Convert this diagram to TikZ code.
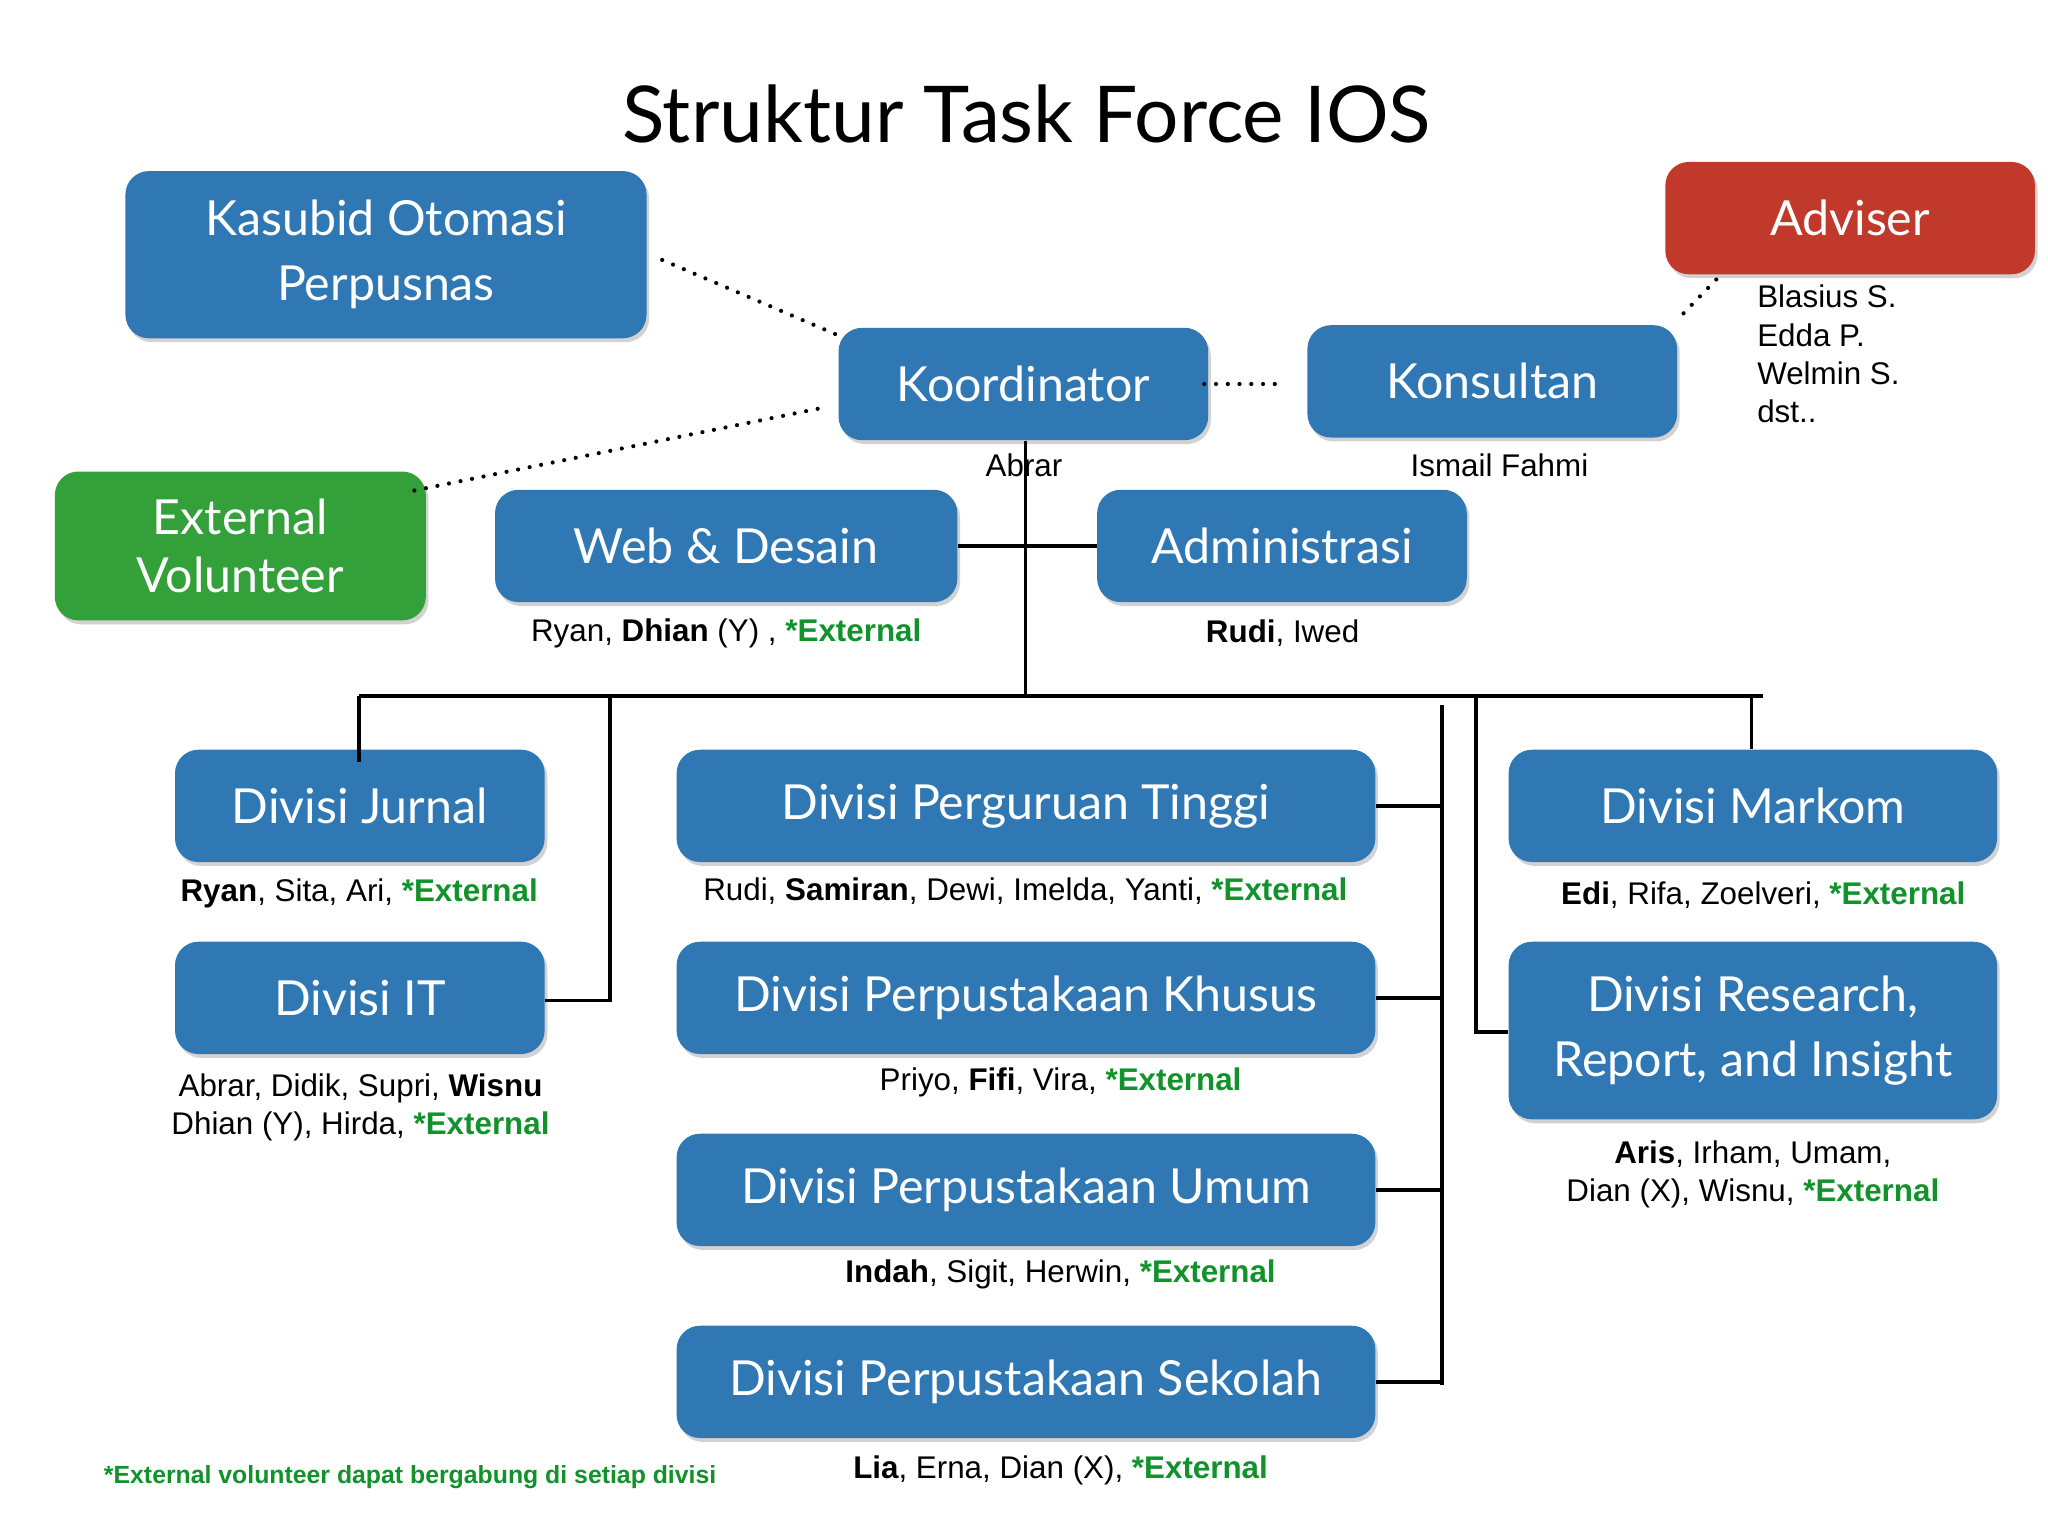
\documentclass[tikz,border=0pt]{standalone}
\usepackage{fontspec}
\setmainfont{Liberation Sans}
\newfontfamily\boxfont{Lato}
\usetikzlibrary{shadows}
\definecolor{bblue}{HTML}{2F78B4}
\definecolor{bred}{HTML}{C0392B}
\definecolor{bgreen}{HTML}{33A03A}
\definecolor{egreen}{HTML}{11922B}
\begin{document}
\begin{tikzpicture}[x=0.5pt,y=-0.5pt,
  bx/.style={rounded corners=9pt,fill=bblue,text=white,font=\boxfont\fontsize{18.5}{25}\selectfont,align=center,inner sep=0pt,drop shadow={opacity=0.35,shadow xshift=1pt,shadow yshift=-1.5pt},minimum width=141.5pt,minimum height=43pt},
  lb/.style={font=\fontsize{12}{14.5}\selectfont,align=center,inner sep=0pt},
  ln/.style={line width=1.3pt},
  dt/.style={line width=1.6pt,dash pattern=on 0pt off 4.5pt,line cap=round},
  ex/.style={text=egreen,font=\bfseries}]
\useasboundingbox (0,0) rectangle (1568,1176);
\fill[white] (0,0) rectangle (1568,1176);
\node[font=\boxfont\fontsize{30}{36}\selectfont] (title) at (786,87) {Struktur Task Force IOS};
\node[bx,minimum width=199.5pt,minimum height=64pt] (kas) at (295.5,195) {Kasubid Otomasi\\Perpusnas};
\node[bx,fill=bred] (adv) at (1416.5,167) {Adviser};
\node[bx] (koord) at (783.5,294) {Koordinator};
\node[bx] (kons) at (1142.5,292) {Konsultan};
\node[bx,fill=bgreen,minimum width=142pt,minimum height=57pt,font=\boxfont\fontsize{18.5}{22}\selectfont] (ext) at (184,418) {External\\Volunteer};
\node[bx,minimum width=177pt] (web) at (556,418) {Web \& Desain};
\node[bx] (adm) at (981.5,418) {Administrasi};
\node[bx] (jur) at (275.5,617) {Divisi Jurnal};
\node[bx] (it) at (275.5,764) {Divisi IT};
\node[bx,minimum width=267.5pt] (dpt) at (785.5,617) {Divisi Perguruan Tinggi};
\node[bx,minimum width=267.5pt] (dpk) at (785.5,764) {Divisi Perpustakaan Khusus};
\node[bx,minimum width=267.5pt] (dpu) at (785.5,911) {Divisi Perpustakaan Umum};
\node[bx,minimum width=267.5pt] (dps) at (785.5,1058) {Divisi Perpustakaan Sekolah};
\node[bx,minimum width=187pt] (mar) at (1342,617) {Divisi Markom};
\node[bx,minimum width=187pt,minimum height=68pt,font=\boxfont\fontsize{18.5}{25}\selectfont] (res) at (1342,789) {Divisi Research,\\Report, and Insight};
% labels
\node[lb] (lab) at (784,356) {Abrar};
\node[lb] (lkons) at (1148,356) {Ismail Fahmi};
\node[lb,align=left,anchor=north west,font=\fontsize{12}{14.6}\selectfont] (ladv) at (1345,218) {Blasius S.\\Edda P.\\Welmin S.\\dst..};
\node[lb] (lweb) at (556,485) {Ryan, \textbf{Dhian} (Y) , \textcolor{egreen}{\textbf{*External}}};
\node[lb] (ladm) at (982,485) {\textbf{Rudi}, Iwed};
\node[lb] (ljur) at (275,684) {\textbf{Ryan}, Sita, Ari, \textcolor{egreen}{\textbf{*External}}};
\node[lb] (lit) at (276,848) {Abrar, Didik, Supri, \textbf{Wisnu}\\Dhian (Y), Hirda, \textcolor{egreen}{\textbf{*External}}};
\node[lb] (ldpt) at (785,682) {Rudi, \textbf{Samiran}, Dewi, Imelda, Yanti, \textcolor{egreen}{\textbf{*External}}};
\node[lb] (ldpk) at (812,829) {Priyo, \textbf{Fifi}, Vira, \textcolor{egreen}{\textbf{*External}}};
\node[lb] (ldpu) at (812,976) {\textbf{Indah}, Sigit, Herwin, \textcolor{egreen}{\textbf{*External}}};
\node[lb] (ldps) at (812,1126) {\textbf{Lia}, Erna, Dian (X), \textcolor{egreen}{\textbf{*External}}};
\node[lb] (lmar) at (1350,685) {\textbf{Edi}, Rifa, Zoelveri, \textcolor{egreen}{\textbf{*External}}};
\node[lb] (lres) at (1342,899) {\textbf{Aris}, Irham, Umam,\\Dian (X), Wisnu, \textcolor{egreen}{\textbf{*External}}};
\node[lb,text=egreen,font=\bfseries\fontsize{9.5}{11}\selectfont] (foot) at (314,1131) {*External volunteer dapat bergabung di setiap divisi};
% coordinates
\coordinate (bl) at (275,533);
\coordinate (br) at (1350,533);
\coordinate (bc) at (785,533);
\coordinate (a1) at (467,533);
\coordinate (a2) at (467,766);
\coordinate (r1) at (1130,533);
\coordinate (r2) at (1130,790);
\coordinate (m1) at (1341,533);
\coordinate (v1) at (1104,540);
\coordinate (v2) at (1104,1060);
% solid connectors
\draw[ln] (koord.south -| bc) -- (bc);
\draw[ln] (web.east) -- (adm.west);
\draw[ln] (bl) -- (br);
\draw[ln] (bl) -- (jur.north -| bl) -- ++(0,10);
\draw[ln] (a1) -- (a2) -- (it.east |- a2);
\draw[ln] (m1) -- (mar.north -| m1);
\draw[ln] (r1) -- (r2) -- (res.west |- r2);
\draw[ln] (v1) -- (v2);
\draw[ln] (dpt.east) -- (dpt.east -| v1);
\draw[ln] (dpk.east) -- (dpk.east -| v1);
\draw[ln] (dpu.east) -- (dpu.east -| v1);
\draw[ln] (dps.east) -- (dps.east -| v1);
% dotted
\coordinate (d1) at (507,199);
\coordinate (d2) at (640,256);
\coordinate (d3) at (922,294);
\coordinate (d4) at (980,294);
\coordinate (d5) at (626,313);
\coordinate (d6) at (315,376);
\coordinate (d7) at (1314,214);
\coordinate (d8) at (1284,245);
\draw[dt] (d1) -- (d2);
\draw[dt] (d3) -- (d4);
\draw[dt] (d5) -- (d6);
\draw[dt] (d7) -- (d8);
\end{tikzpicture}
\end{document}
